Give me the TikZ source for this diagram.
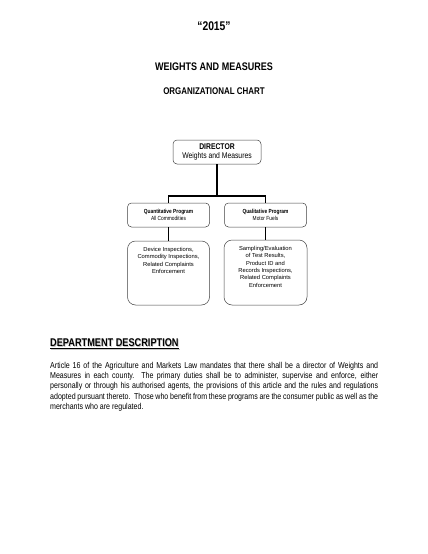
\documentclass[tikz,border=0pt]{standalone}
\usepackage{fontspec}
\setmainfont{Liberation Sans}
\newfontfamily\narrow{Liberation Sans}[FakeStretch=0.82]
\tikzset{
  unit/.style={draw=black!75, line width=0.5pt, rounded corners=4pt, minimum width=82pt, minimum height=24pt, inner sep=1pt, align=center, font=\narrow\fontsize{5.9}{7.2}\selectfont},
  duty/.style={draw=black!75, line width=0.5pt, rounded corners=8pt, inner sep=0pt, font=\fontsize{5.8}{7.4}\selectfont},
  bar/.style={line width=1.5pt},
  title/.style={font=\narrow\bfseries\fontsize{#1}{#1}\selectfont},
}

\begin{document}
\begin{tikzpicture}[x=1pt, y=-1pt]
  %%%%% START %%%%%
  \useasboundingbox (0, 0) rectangle (428, 554);

  \node[title=12.6] (year) at (214, 26) {“2015”};
  \node[title=11] (dept) at (214, 67) {WEIGHTS AND MEASURES};
  \node[title=9.7] (chart) at (214, 91) {ORGANIZATIONAL CHART};

  \node[unit, minimum width=88pt, font=\narrow\fontsize{8.3}{9}\selectfont] (dir) at (217, 152) {{\bfseries DIRECTOR}\\Weights and Measures};

  \node[unit] (quant) at (168.5, 215) {{\bfseries Quantitative Program}\\All Commodities};
  \node[unit] (qual) at (265.5, 215) {{\bfseries Qualitative Program}\\Motor Fuels};

  \node[duty] (quantduty) at (168.5, 273) {\parbox[c][64pt][t]{82pt}{\centering\vspace*{6pt}Device Inspections,\\Commodity Inspections,\\Related Complaints\\Enforcement}};
  \node[duty] (qualduty) at (265.5, 272.5) {\parbox[c][65pt][t]{83pt}{\centering\vspace*{6pt}Sampling/Evaluation\\of Test Results,\\Product ID and\\Records Inspections,\\Related Complaints\\Enforcement}};

  \coordinate (bus) at (217, 196);
  \draw[bar] (dir.south) -- (dir.south |- bus);
  \draw[bar] (quant.north) -- (quant.north |- bus) -- (qual.north |- bus) -- (qual.north);
  \draw[bar] (quant.south) -- (quantduty.north);
  \draw[bar] (qual.south) -- (qualduty.north);

  % heading with its shadow
  \node[title=11.2, anchor=west, inner sep=0pt, text=black!22] (headshadow) at (50.7, 343.7) {DEPARTMENT DESCRIPTION};
  \draw[line width=0.8pt, black!22] ([yshift=-2.2pt]headshadow.base west) -- ([yshift=-2.2pt]headshadow.base east);
  \node[title=11.2, anchor=west, inner sep=0pt] (head) at (50, 343) {DEPARTMENT DESCRIPTION};
  \draw[line width=0.8pt] ([yshift=-1.5pt]head.base west) -- ([yshift=-1.5pt]head.base east);

  \node[anchor=north west, text width=328pt, align=justify, inner sep=0pt, font=\narrow\fontsize{8.6}{10.2}\selectfont] (desc) at (50, 362)
    {Article 16 of the Agriculture and Markets Law mandates that there shall be a director of Weights and\linebreak
     Measures in each county.\ \ The primary duties shall be to administer, supervise and enforce, either\linebreak
     personally or through his authorised agents, the provisions of this article and the rules and regulations\linebreak
     adopted pursuant thereto.\ \ Those who benefit from these programs are the consumer public as well as the\linebreak
     merchants who are regulated.};
  %%%%% END %%%%%
\end{tikzpicture}
\end{document}
